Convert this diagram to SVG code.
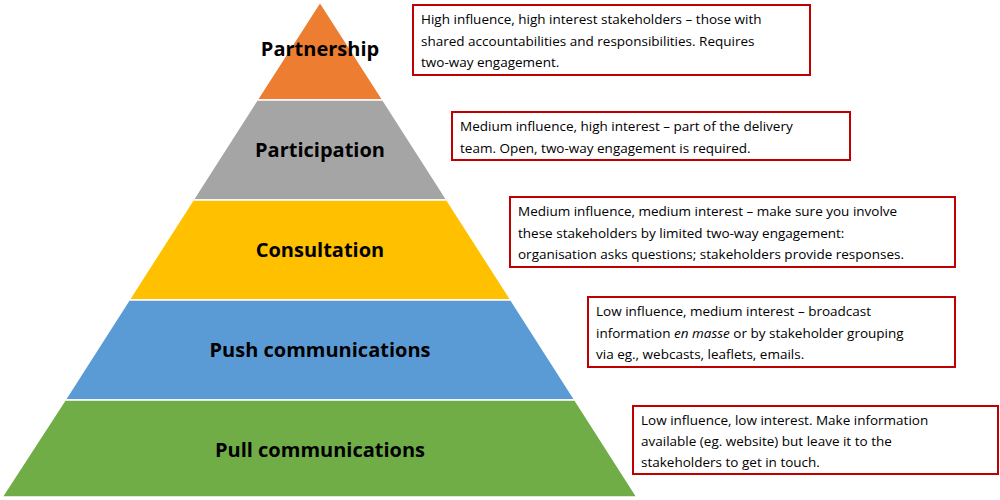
<svg xmlns="http://www.w3.org/2000/svg" width="1000" height="500" viewBox="0 0 1000 500">
<style>
.lvl{stroke:#fff;stroke-width:1.5}
.lab{font-family:"Open Sans","Liberation Sans",sans-serif;font-weight:bold;font-size:20px;fill:#000;text-anchor:middle}
.box{fill:#fff;stroke:#C00000;stroke-width:2}
.t{font-family:"Open Sans","Liberation Sans",sans-serif;font-size:13.5px;fill:#000}
</style>
<rect width="1000" height="500" fill="#fff"/>
<g id="partnership"><polygon class="lvl" fill="#ED7D31" points="320,2 383,100 257,100"/><text class="lab" x="320" y="56">Partnership</text></g>
<g id="participation"><polygon class="lvl" fill="#A5A5A5" points="257,100 383,100 447,200 193,200"/><text class="lab" x="320" y="157">Participation</text></g>
<g id="consultation"><polygon class="lvl" fill="#FFC000" points="193,200 447,200 511,300 129,300"/><text class="lab" x="320" y="257">Consultation</text></g>
<g id="push"><polygon class="lvl" fill="#5B9BD5" points="129,300 511,300 575,400 65,400"/><text class="lab" x="320" y="357">Push communications</text></g>
<g id="pull"><polygon class="lvl" fill="#70AD47" points="65,400 575,400 637,497 2,497"/><text class="lab" x="320" y="457">Pull communications</text></g>
<g id="desc1"><rect class="box" x="413" y="5" width="397" height="70"/>
<text class="t" x="421" y="24">High influence, high interest stakeholders – those with</text>
<text class="t" x="421" y="46">shared accountabilities and responsibilities. Requires</text>
<text class="t" x="421" y="67">two-way engagement.</text></g>
<g id="desc2"><rect class="box" x="452" y="112" width="398" height="48"/>
<text class="t" x="460" y="131">Medium influence, high interest – part of the delivery</text>
<text class="t" x="460" y="153">team. Open, two-way engagement is required.</text></g>
<g id="desc3"><rect class="box" x="510" y="197" width="445" height="70"/>
<text class="t" x="518" y="216">Medium influence, medium interest – make sure you involve</text>
<text class="t" x="518" y="238">these stakeholders by limited two-way engagement:</text>
<text class="t" x="518" y="259">organisation asks questions; stakeholders provide responses.</text></g>
<g id="desc4"><rect class="box" x="588" y="297" width="367" height="70"/>
<text class="t" x="596" y="316">Low influence, medium interest – broadcast</text>
<text class="t" x="596" y="338">information <tspan font-style="italic">en masse</tspan> or by stakeholder grouping</text>
<text class="t" x="596" y="359">via eg., webcasts, leaflets, emails.</text></g>
<g id="desc5"><rect class="box" x="633" y="406" width="365" height="68"/>
<text class="t" x="641" y="425">Low influence, low interest. Make information</text>
<text class="t" x="641" y="446">available (eg. website) but leave it to the</text>
<text class="t" x="641" y="467">stakeholders to get in touch.</text></g>
<g id="connectors"/>
</svg>
